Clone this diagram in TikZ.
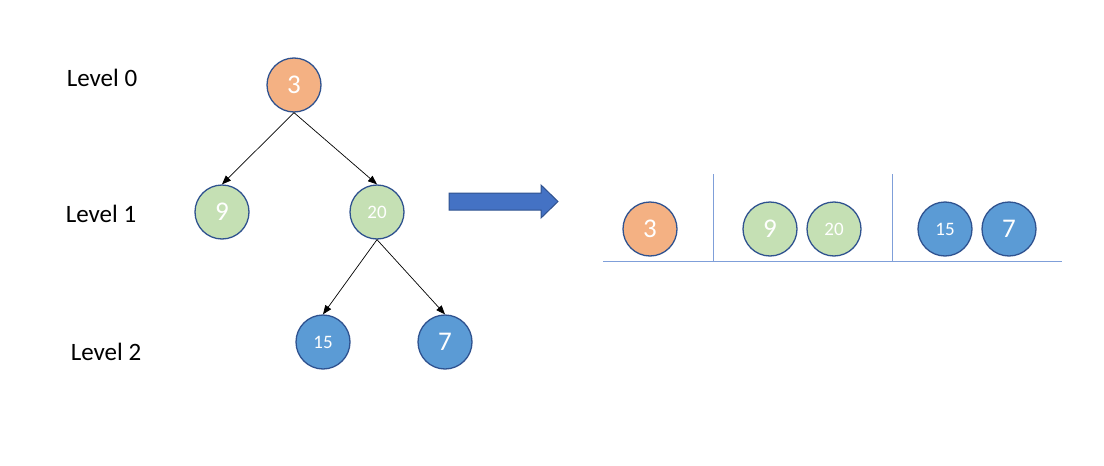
\documentclass[tikz,border=0pt]{standalone}
\usepackage{fontspec}
\setmainfont{Carlito}
\usetikzlibrary{arrows.meta}

\definecolor{nodeorange}{HTML}{F4B183}
\definecolor{nodegreen}{HTML}{C5E0B4}
\definecolor{nodeblue}{HTML}{5B9BD5}
\definecolor{nodeline}{HTML}{2F528F}
\definecolor{arrowblue}{HTML}{4472C4}
\definecolor{rowline}{HTML}{7F9FD9}

\begin{document}
\begin{tikzpicture}[x=1pt,y=-1pt]
	 \tikzstyle{vertex}=[circle,draw=nodeline,line width=1.3pt,minimum size=54pt,inner sep=0pt,text=white]
	 \tikzstyle{root vertex} = [vertex, fill=nodeorange]
	 \tikzstyle{mid vertex} = [vertex, fill=nodegreen]
	 \tikzstyle{leaf vertex} = [vertex, fill=nodeblue]
	 \tikzstyle{big} = [font=\fontsize{27}{30}\selectfont]
	 \tikzstyle{small} = [font=\fontsize{19}{21}\selectfont]
	 \tikzstyle{level} = [font=\fontsize{25}{29}\selectfont]

	 \tikzstyle{edge} = [-{Triangle[length=9pt,width=7pt]},black,line width=0.7pt]
	 \tikzstyle{row line} = [draw,line width=1pt,rowline]

	 \useasboundingbox (0,0) rectangle (1104,466);

	 % levels
	 \node[level] (l0) at (102,78) {Level 0};
	 \node[level] (l1) at (101,214) {Level 1};
	 \node[level] (l2) at (106,352) {Level 2};

	 % tree
	 \node[root vertex,big] (v3) at (294,85) {3};
	 \node[mid vertex,big] (v9) at (222,212) {9};
	 \node[mid vertex,small] (v20) at (377,212) {20};
	 \node[leaf vertex,small] (v15) at (323,342) {15};
	 \node[leaf vertex,big] (v7) at (445,342) {7};

	 \draw[edge] (v3.south) -- (v9.north);
	 \draw[edge] (v3.south) -- (v20.north);
	 \draw[edge] (v20.south) -- (v15.north);
	 \draw[edge] (v20.south) -- (v7.north);

	 % arrow
	 \draw[fill=arrowblue,draw=nodeline,line width=1pt]
		(449,193) -- (541,193) -- (541,185) -- (558,201.5) -- (541,218) -- (541,210) -- (449,210) -- cycle;

	 % levels as a row
	 \node[root vertex,big] (a3) at (650,229) {3};
	 \node[mid vertex,big] (a9) at (770,229) {9};
	 \node[mid vertex,small] (a20) at (834,229) {20};
	 \node[leaf vertex,small] (a15) at (945,229) {15};
	 \node[leaf vertex,big] (a7) at (1009,229) {7};

	 \draw[row line] (603,261) -- (1062,261);
	 \draw[row line] (713,174) -- (713,261);
	 \draw[row line] (892,174) -- (892,261);
\end{tikzpicture}
\end{document}
